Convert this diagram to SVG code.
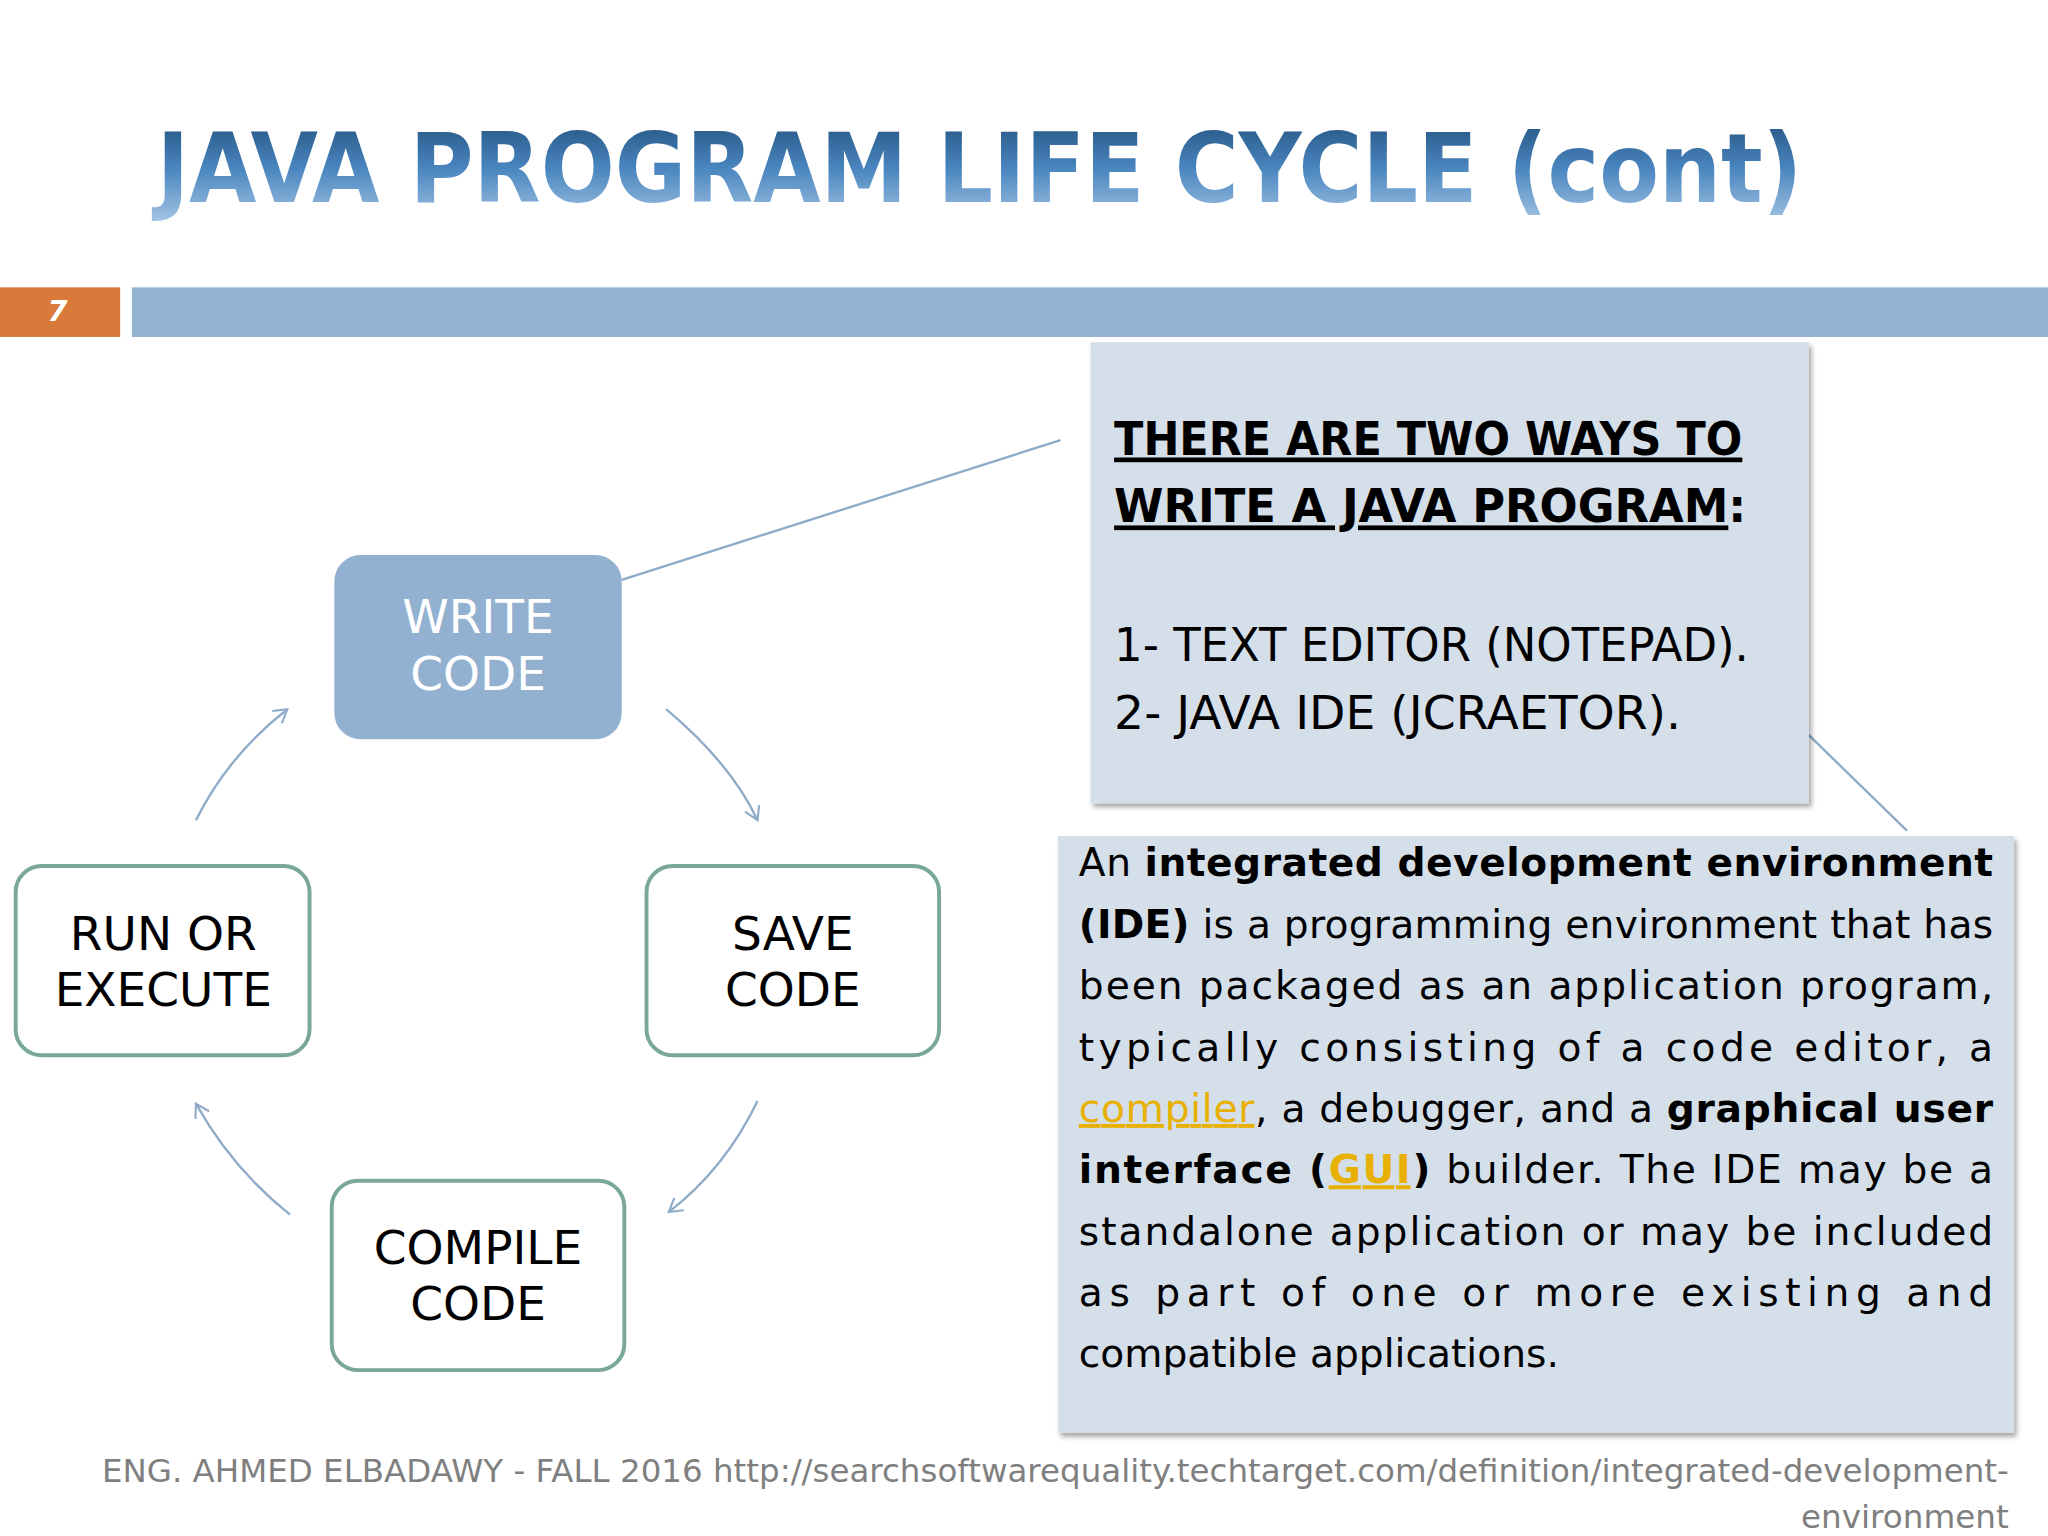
<svg xmlns="http://www.w3.org/2000/svg" width="2048" height="1536" viewBox="0 0 2048 1536">
<defs>
<linearGradient id="tg" x1="0" y1="0" x2="0" y2="1">
<stop offset="0" stop-color="#1f4e79"/><stop offset="0.5" stop-color="#4a86c0"/><stop offset="1" stop-color="#a9c8e6"/>
</linearGradient>
<marker id="ah" markerWidth="14" markerHeight="14" refX="11" refY="7" orient="auto" markerUnits="userSpaceOnUse">
<path d="M1,1 L11,7 L1,13" fill="none" stroke="#8eabc8" stroke-width="1.6"/>
</marker>
<filter id="sh" x="-5%" y="-5%" width="110%" height="110%"><feDropShadow dx="2" dy="3" stdDeviation="2" flood-color="#000" flood-opacity="0.35"/></filter>
</defs>
<style>
text{font-family:"DejaVu Sans","Open Sans",sans-serif}
.node{fill:#fff;stroke:#79a79c;stroke-width:3}
.nt{font-size:36px;fill:#000;text-anchor:middle}
.box{fill:#d5dfea}
.p{font-size:30px;fill:#000}
.b{font-weight:bold}
.lk{fill:#e8b000;text-decoration:underline}
.arc{fill:none;stroke:#8eabc8;stroke-width:1.8;marker-end:url(#ah)}
</style>
<rect width="2048" height="1536" fill="#fff"/>
<g transform="scale(1.3061)">
<text x="120" y="155" font-size="74" font-weight="bold" fill="url(#tg)" textLength="1260" lengthAdjust="spacingAndGlyphs">JAVA PROGRAM LIFE CYCLE (cont)</text>
<rect x="0" y="220" width="92" height="38" fill="#d9793a"/>
<text x="44" y="246" font-size="22" font-style="italic" font-weight="bold" fill="#fff" text-anchor="middle">7</text>
<rect x="101" y="220" width="1467" height="38" fill="#93b3d3"/>
<g id="connectors">
<line x1="476" y1="444" x2="812" y2="337" stroke="#8eabc8" stroke-width="1.8"/>
<line x1="1382" y1="560" x2="1460" y2="636" stroke="#8eabc8" stroke-width="1.8"/>
<path class="arc" d="M510,543 Q560,585 580,628"/>
<path class="arc" d="M580,843 Q555,895 512,928"/>
<path class="arc" d="M222,930 Q178,895 150,845"/>
<path class="arc" d="M150,628 Q175,578 220,543"/>
</g>
<g id="callout">
<rect class="box" x="835" y="262" width="550" height="353" filter="url(#sh)"/>
<text x="853" y="348" font-size="36" font-weight="bold" text-decoration="underline" textLength="481" lengthAdjust="spacingAndGlyphs">THERE ARE TWO WAYS TO</text>
<text x="853" y="400" font-size="36" font-weight="bold" textLength="484" lengthAdjust="spacingAndGlyphs"><tspan text-decoration="underline">WRITE A JAVA PROGRAM</tspan>:</text>
<text x="853" y="506" font-size="36" textLength="486" lengthAdjust="spacingAndGlyphs">1- TEXT EDITOR (NOTEPAD).</text>
<text x="853" y="558" font-size="36" textLength="434" lengthAdjust="spacingAndGlyphs">2- JAVA IDE (JCRAETOR).</text>
</g>
<g id="ide">
<rect class="box" x="810" y="640" width="732" height="457" filter="url(#sh)"/>
<text class="p" x="826" y="671" textLength="700" lengthAdjust="spacing">An <tspan class="b">integrated development environment</tspan></text>
<text class="p" x="826" y="718" textLength="700" lengthAdjust="spacing"><tspan class="b">(IDE)</tspan> is a programming environment that has</text>
<text class="p" x="826" y="765" textLength="700" lengthAdjust="spacing">been packaged as an application program,</text>
<text class="p" x="826" y="812" textLength="700" lengthAdjust="spacing">typically consisting of a code editor, a</text>
<text class="p" x="826" y="859" textLength="700" lengthAdjust="spacing"><tspan class="lk">compiler</tspan>, a debugger, and a <tspan class="b">graphical user</tspan></text>
<text class="p" x="826" y="906" textLength="700" lengthAdjust="spacing"><tspan class="b">interface (</tspan><tspan class="lk b">GUI</tspan><tspan class="b">)</tspan> builder. The IDE may be a</text>
<text class="p" x="826" y="953" textLength="700" lengthAdjust="spacing">standalone application or may be included</text>
<text class="p" x="826" y="1000" textLength="700" lengthAdjust="spacing">as part of one or more existing and</text>
<text class="p" x="826" y="1047">compatible applications.</text>
</g>
<g id="write"><rect x="256" y="425" width="220" height="141" rx="20" fill="#92b1d1"/>
<text class="nt" x="366" y="485" fill="#fff" style="fill:#fff">WRITE</text><text class="nt" x="366" y="528" style="fill:#fff">CODE</text></g>
<g id="save"><rect class="node" x="495" y="663" width="224" height="145" rx="20"/>
<text class="nt" x="607" y="727">SAVE</text><text class="nt" x="607" y="770">CODE</text></g>
<g id="compile"><rect class="node" x="254" y="904" width="224" height="145" rx="20"/>
<text class="nt" x="366" y="968">COMPILE</text><text class="nt" x="366" y="1011">CODE</text></g>
<g id="run"><rect class="node" x="12" y="663" width="225" height="145" rx="20"/>
<text class="nt" x="125" y="727">RUN OR</text><text class="nt" x="125" y="770">EXECUTE</text></g>
<text x="78" y="1135" font-size="25" fill="#7f7f7f" textLength="1460" lengthAdjust="spacingAndGlyphs">ENG. AHMED ELBADAWY - FALL 2016 http://searchsoftwarequality.techtarget.com/definition/integrated-development-</text>
<text x="1538" y="1170" font-size="25" fill="#7f7f7f" text-anchor="end">environment</text>
</g>
</svg>
